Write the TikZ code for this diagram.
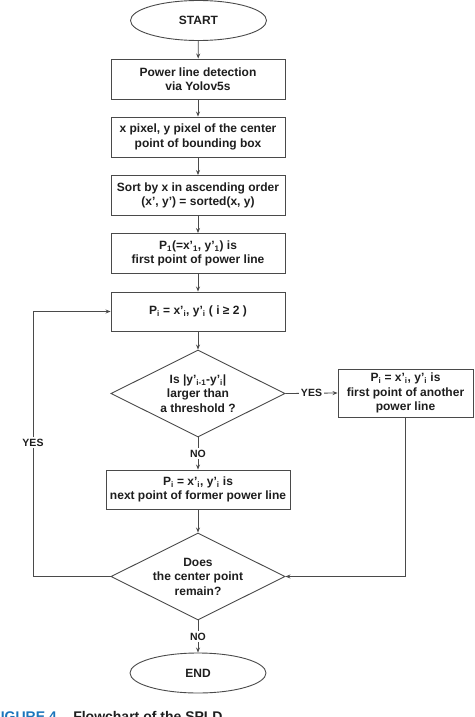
\documentclass[tikz,border=0pt]{standalone}
\usepackage{fontspec}
\setmainfont{Liberation Sans}
\usetikzlibrary{shapes.geometric,arrows.meta}
\definecolor{linec}{HTML}{4A4A4A}
\definecolor{textc}{HTML}{1E1E1E}
\definecolor{capblue}{HTML}{1B75BB}
\begin{document}
\begin{tikzpicture}[x=1pt,y=-1pt,
  every node/.style={text=textc, font=\bfseries\fontsize{12}{14.5}\selectfont},
  stepbox/.style={draw=linec, line width=0.9pt, fill=white, minimum width=174pt, minimum height=40pt, align=center, inner sep=2pt},
  term/.style={draw=linec, line width=0.9pt, ellipse, minimum width=136pt, minimum height=40pt, inner sep=0pt},
  decide/.style={draw=linec, line width=0.9pt, diamond, aspect=2, minimum width=174pt, minimum height=87pt, inner sep=0pt, align=center},
  lbl/.style={fill=white, inner sep=1.5pt},
  conn/.style={draw=linec, line width=0.8pt, -{Stealth[length=5pt,width=4pt]}},
  plain/.style={draw=linec, line width=0.8pt}
]
\useasboundingbox (0,0) rectangle (474,717);

\node[term] (start) at (198.5,20.5) {START};
\node[stepbox] (b1) at (198,79) {Power line detection\\via Yolov5s};
\node[stepbox] (b2) at (198,137) {x pixel, y pixel of the center\\point of bounding box};
\node[stepbox] (b3) at (198,195.5) {Sort by x in ascending order\\(x', y') = sorted(x, y)};
\node[stepbox] (b4) at (198,253.5) {P\textsubscript{1}(=x'\textsubscript{1}, y'\textsubscript{1}) is\\first point of power line};
\node[stepbox, minimum height=39pt] (b5) at (198,311.5) {P\textsubscript{i} = x'\textsubscript{i}, y'\textsubscript{i} ( i ≥ 2 )};
\node[decide] (d1) at (198,393.5) {Is |y'\textsubscript{i-1}-y'\textsubscript{i}|\\larger than\\a threshold ?};
\node[stepbox, minimum width=135pt, minimum height=48pt, inner sep=1pt] (rb) at (405.5,393) {P\textsubscript{i} = x'\textsubscript{i}, y'\textsubscript{i} is\\first point of another\\power line};
\node[stepbox, minimum width=184pt, minimum height=39pt] (b6) at (198,489.5) {P\textsubscript{i} = x'\textsubscript{i}, y'\textsubscript{i} is\\next point of former power line};
\node[decide] (d2) at (198,576.5) {Does\\the center point\\remain?};
\node[term] (end) at (198,673) {END};

\coordinate (loopb) at (33,576.5);
\coordinate (loopt) at (33,311.5);
\coordinate (rcorner) at (405.5,576.5);

\draw[conn] (start) -- (b1);
\draw[conn] (b1) -- (b2);
\draw[conn] (b2) -- (b3);
\draw[conn] (b3) -- (b4);
\draw[conn] (b4) -- (b5);
\draw[conn] (b5) -- (d1);
\draw[conn] (d1.east) -- node[lbl, font=\bfseries\fontsize{10.5}{12}\selectfont] {YES} (rb.west);
\draw[conn] (d1.south) -- node[lbl, font=\bfseries\fontsize{10.5}{12}\selectfont] {NO} (b6.north);
\draw[conn] (b6) -- (d2);
\draw[conn] (d2.south) -- node[lbl, font=\bfseries\fontsize{10.5}{12}\selectfont] {NO} (end.north);
\draw[conn] (rb.south) -- (rcorner) -- (d2.east);
\draw[conn] (d2.west) -- (loopb) -- node[lbl, pos=0.505, font=\bfseries\fontsize{10.5}{12}\selectfont] {YES} (loopt) -- (b5.west);

\node[anchor=base west, inner sep=0pt, font=\bfseries\fontsize{14}{16}\selectfont] (cap) at (-8,721) {\textcolor{capblue}{FIGURE 4.}\hspace{0.9em}Flowchart of the SPLD};
\end{tikzpicture}
\end{document}
